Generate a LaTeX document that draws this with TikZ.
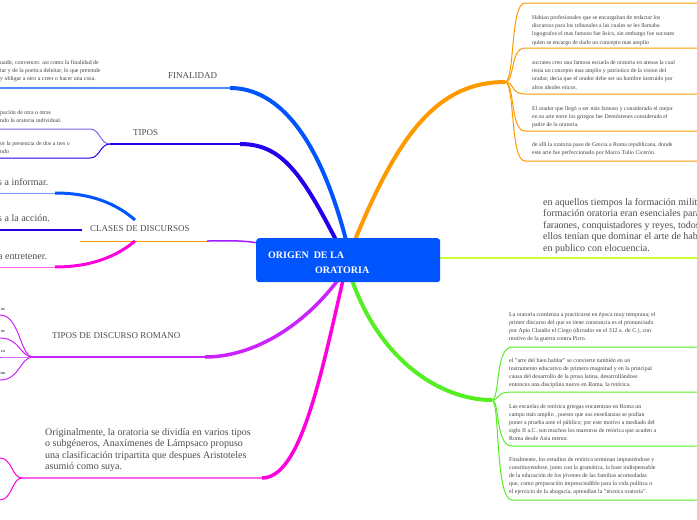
\documentclass[tikz,border=0pt]{standalone}
\usepackage{fontspec}
\setmainfont{Liberation Serif}
\begin{document}
\begin{tikzpicture}[x=1pt,y=-1pt,
  lbl/.style={anchor=west,inner sep=0,text=black!70,font=\fontsize{9}{10}\selectfont},
  big/.style={anchor=north west,inner sep=0,text=black!70,align=left,font=\fontsize{10}{11.5}\selectfont},
  small/.style={anchor=north west,inner sep=0,text=black!75,align=left,font=\fontsize{5.8}{8.3}\selectfont},
  tiny/.style={anchor=north west,inner sep=0,text=black!75,align=left,font=\fontsize{5.9}{8}\selectfont}]
\useasboundingbox (0,0) rectangle (697,520);
\begin{scope}
\clip (0,0) rectangle (697,520);
\definecolor{cor}{HTML}{FF9900}
\definecolor{cyl}{HTML}{CCFF33}
\definecolor{cgr}{HTML}{55EE22}
\definecolor{cmg}{HTML}{FF00DD}
\definecolor{cpu}{HTML}{CC22FF}
\definecolor{cbl}{HTML}{0055FF}
\definecolor{cdb}{HTML}{2200EE}
% orange
\coordinate (os) at (505,82);
\draw[cor,line width=4] (355,240) .. controls (400,130) and (440,82) .. (os);
\foreach \y in {3,48,94,131,161}{\draw[cor,line width=1] (os) .. controls (515,82) and (510,\y) .. (525,\y) -- (697,\y);}
\node[small] (o1) at (532,15) {Habian profesionales que se encargaban de redactar los\\discursos para los tribunales a las cuales se les llamaba\\logografos el mas famoso fue lisics, sin embargo fue socrates\\quien se encargo de darle un concepto mas amplio};
\node[small] (o2) at (532,60) {socrates creo una famosa escuela de oratoria en atenas la cual\\tenia un concepto mas amplio y patriotico de la vision del\\orador, decia que el orador debe ser un hombre instruido por\\altos ideales eticos.};
\node[small] (o3) at (532,106) {El orador que llegó a ser más famoso y considerado el mejor\\en su arte  entre los griegos fue Demóstenes considerada el\\padre de la oratoria.};
\node[small] (o4) at (532,142) {de allí la oratoria paso de Grecia a  Roma republicana, donde\\este arte fue perfeccionado por Marco Tulio Cicerón.};
% yellow
\draw[cyl,line width=2.5] (438,258) -- (697,258);
\node[big] (y1) at (543,198) {en aquellos tiempos la formación militar y la\\formación oratoria eran esenciales para los\\faraones, conquistadores y reyes, todos\\ellos tenían que dominar el arte de hablar\\en publico con elocuencia.};
% green
\coordinate (gs) at (492,400);
\draw[cgr,line width=4] (352,280) .. controls (380,360) and (440,400) .. (gs);
\foreach \y in {347,392,446,500}{\draw[cgr,line width=1] (gs) .. controls (500,400) and (495,\y) .. (512,\y) -- (697,\y);}
\node[tiny] (g1) at (509,312) {La oratoria comienza a practicarse en época muy temprana; el\\primer discurso del que se tiene constancia es el pronunciado\\por Apio Claudio el Ciego (dictador en el 312 a. de C.), con\\motivo de la guerra contra Pirro.};
\node[tiny] (g2) at (509,358) {el "arte del bien hablar" se convierte también en un\\instrumento educativo de primera magnitud y en la principal\\causa del desarrollo de la prosa latina, desarrollándose\\entonces una disciplina nueva en Roma, la retórica.};
\node[tiny] (g3) at (509,404) {Las escuelas de retórica griegas encuentran en Roma un\\campo más amplio , puesto que sus enseñanzas se podían\\poner a prueba ante el público; por este motivo a mediado del\\siglo II a.C. son muchos los maestros de retórica que acuden a\\Roma desde Asia menor.};
\node[tiny] (g4) at (509,457) {Finalmente, los estudios de retórica terminan imponiéndose y\\constituyendose, junto con la gramática, la base indispensable\\de la educación de los jóvenes de las familias acomodadas\\que, como preparación imprescindible para la vida política o\\el ejercicio de la abogacía, aprendían la "técnica oratoria".};
% magenta bottom
\coordinate (ms) at (22,478);
\draw[cmg,line width=3.5] (343,280) .. controls (320,380) and (300,478) .. (262,478);
\draw[cmg!60,line width=1.5] (262,478) -- (ms);
\draw[cmg,line width=1] (ms) .. controls (12,478) and (12,458) .. (0,458);
\draw[cmg,line width=1] (ms) .. controls (12,478) and (12,500) .. (0,500);
\node[big] (m1) at (45,428) {Originalmente, la oratoria se dividía en varios tipos\\o subgéneros, Anaxímenes de Lámpsaco propuso\\una clasificación tripartita que despues Aristoteles\\asumió como suya.};
% purple romano
\coordinate (ps) at (33,357);
\draw[cpu,line width=3.5] (338,280) .. controls (300,330) and (250,357) .. (205,357);
\draw[cpu,line width=1.2] (205,357) -- (ps);
\foreach \y in {315,338,357,380}{\draw[cpu,line width=1] (ps) .. controls (20,357) and (20,\y) .. (0,\y);}
\node[lbl] (pr) at (52,336) {TIPOS DE DISCURSO ROMANO};
\node[anchor=east,inner sep=0,font=\fontsize{4.5}{5}\selectfont] at (5,309) {os};
\node[anchor=east,inner sep=0,font=\fontsize{4.5}{5}\selectfont] at (5,331) {os};
\node[anchor=east,inner sep=0,font=\fontsize{4.5}{5}\selectfont] at (5,351) {ca};
\node[anchor=east,inner sep=0,font=\fontsize{4.5}{5}\selectfont] at (5,373) {na};
% clases
\draw[cpu!80!blue,line width=1.5] (258,243) .. controls (240,240) and (230,241) .. (207,241);
\draw[cor,line width=0.8] (80,241) -- (207,241);
\node[lbl] (cl) at (90,229) {CLASES DE DISCURSOS};
\draw[cbl,line width=3] (135,220) .. controls (110,198) and (80,193) .. (55,193);
\draw[cbl!60,line width=1] (55,193) -- (0,193);
\draw[cdb,line width=1.5] (82,230) -- (0,230);
\draw[cmg,line width=3] (135,241) .. controls (110,262) and (80,267) .. (55,267);
\draw[cmg!60,line width=1] (55,267) -- (0,267);
\node[lbl,font=\fontsize{10}{11}\selectfont] at (-2,182) {s a informar.};
\node[lbl,font=\fontsize{10}{11}\selectfont] at (-2,218) {s a la acción.};
\node[lbl,font=\fontsize{10}{11}\selectfont] at (-2,257) {a entretener.};
% tipos
\coordinate (ts) at (110,144);
\draw[cdb,line width=4] (336,240) .. controls (300,170) and (280,144) .. (240,144);
\draw[cdb,line width=1.2] (240,144) -- (ts);
\draw[cdb!60,line width=1] (ts) .. controls (100,144) and (100,129) .. (90,129) -- (0,129);
\draw[cdb,line width=1] (ts) .. controls (100,144) and (100,158) .. (90,158) -- (0,158);
\node[lbl] (tp) at (133,133) {TIPOS};
\node[tiny] at (0,110) {pación de otra u otras\\ndo la oratoria individual.};
\node[tiny] at (0,141) {or la presencia de dos a tres o\\ndo};
% finalidad
\draw[cbl,line width=4] (346,240) .. controls (320,140) and (280,88) .. (230,88);
\draw[cbl!70,line width=1.2] (230,88) -- (0,88);
\node[lbl] (fi) at (168,76) {FINALIDAD};
\node[tiny] at (0,60) {uadir, convencer. asi como la finalidad de\\tar y de la poetica deleitar, lo que pretende\\y obligar a otro a creer o hacer una cosa.};
% center
\node[draw=none,fill=cbl,rounded corners=3,minimum width=184,minimum height=44,anchor=north west] (ctr) at (256,238) {};
\node[anchor=west,inner sep=0,text=white,font=\bfseries\fontsize{10}{11}\selectfont] at (268,255) {ORIGEN\ \ DE LA};
\node[anchor=west,inner sep=0,text=white,font=\bfseries\fontsize{10}{11}\selectfont] at (315,270) {ORATORIA};
\end{scope}
\end{tikzpicture}
\end{document}
